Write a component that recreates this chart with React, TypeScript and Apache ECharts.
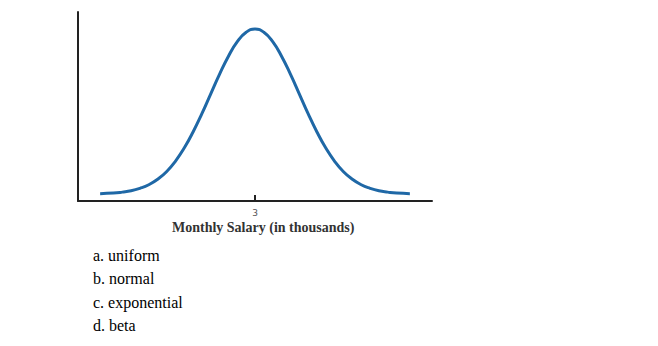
import React, { useEffect, useRef } from "react";
import * as echarts from "echarts";

const xValues = [1.25, 1.4, 1.5, 1.6, 1.7, 1.8, 1.9, 2.0, 2.1, 2.2, 2.3, 2.4, 2.5, 2.6, 2.7, 2.8, 2.9, 3.0,
  3.1, 3.2, 3.3, 3.4, 3.5, 3.6, 3.7, 3.8, 3.9, 4.0, 4.1, 4.2, 4.3, 4.4, 4.5, 4.6, 4.75];
const yValues = [0.039, 0.042, 0.047, 0.054, 0.067, 0.086, 0.115, 0.155, 0.21, 0.28, 0.365, 0.462, 0.567, 0.671, 0.766, 0.843, 0.893, 0.91,
  0.893, 0.843, 0.766, 0.671, 0.567, 0.462, 0.365, 0.28, 0.21, 0.155, 0.115, 0.086, 0.067, 0.054, 0.047, 0.042, 0.039];
const tickValues = [3];
const axisTitle = "Monthly Salary (in thousands)";
const choices = ["a. uniform", "b. normal", "c. exponential", "d. beta"];

export default function App() {
  const ref = useRef<HTMLDivElement>(null);
  useEffect(() => {
    if (!ref.current) return;
    const chart = echarts.init(ref.current, null, { renderer: "svg" });
    chart.setOption({
      animation: false,
      backgroundColor: "#ffffff",
      grid: { left: 78, top: 12, width: 354, height: 189 },
      xAxis: {
        type: "value",
        min: 1,
        max: 5,
        axisLine: { show: true, onZero: false, lineStyle: { color: "#222", width: 2 } },
        axisTick: { show: true, inside: true, length: 6, customValues: tickValues, lineStyle: { color: "#222", width: 2 } },
        axisLabel: { show: true, customValues: tickValues, margin: 7, fontSize: 9, color: "#555", fontFamily: "DejaVu Sans" },
        splitLine: { show: false },
      },
      yAxis: {
        type: "value",
        min: 0,
        max: 1,
        axisLine: { show: true, lineStyle: { color: "#222", width: 2 } },
        axisTick: { show: false },
        axisLabel: { show: false },
        splitLine: { show: false },
      },
      series: [
        {
          type: "line",
          data: xValues.map((x, i) => [x, yValues[i]]),
          smooth: true,
          showSymbol: false,
          lineStyle: { color: "#1f68a6", width: 3 },
        },
      ],
      graphic: [
        {
          type: "text",
          left: 172,
          top: 220,
          style: { text: axisTitle, fontFamily: "Liberation Serif", fontWeight: "bold", fontSize: 14, fill: "#333" },
        },
        ...choices.map((c, i) => ({
          type: "text",
          left: 93,
          top: 247 + i * 23.5,
          style: { text: c, fontFamily: "Liberation Serif", fontSize: 16, fill: "#000" },
        })),
      ],
    });
    return () => chart.dispose();
  }, []);
  return <div ref={ref} style={{ position: "fixed", left: 0, top: 0, width: 658, height: 346 }} />;
}
